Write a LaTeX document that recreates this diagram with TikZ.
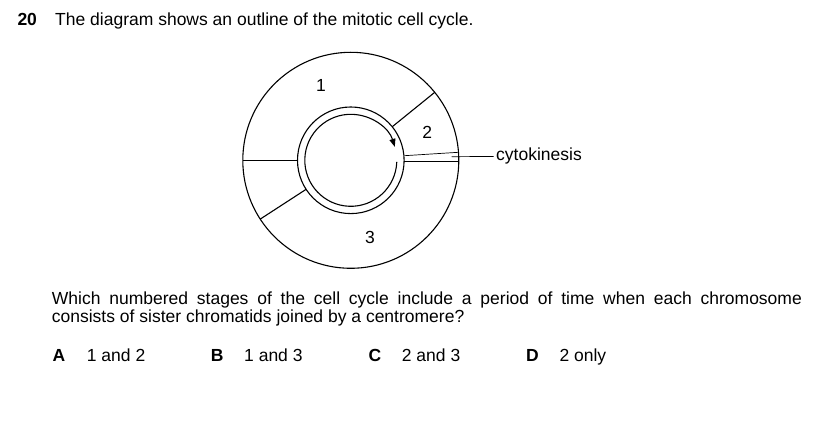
\documentclass[tikz,border=0pt]{standalone}
\usepackage{fontspec}
\setmainfont{Liberation Sans}
\usetikzlibrary{arrows.meta}
\begin{document}
\begin{tikzpicture}[x=1pt,y=-1pt,
  txt/.style={font=\fontsize{17.5}{20}\selectfont, inner sep=0pt, anchor=base west},
  num/.style={font=\fontsize{17.5}{20}\selectfont, inner sep=0pt},
  ln/.style={line width=1.1pt, black},
  thin ln/.style={line width=0.7pt, black}]
\useasboundingbox (0,0) rectangle (836,443);
% title
\node[txt] (qn) at (17.3,26) {\textbf{20}};
\node[txt] (title) at (55,26) {The diagram shows an outline of the mitotic cell cycle.};
% diagram
\coordinate (c) at (350.8,160.3);
\draw[ln] (c) circle (108);
\draw[ln] (c) circle (53.3);
\draw[ln, -{Triangle[length=8pt,width=6pt]}] ([shift={(2:46)}]c) arc[start angle=2, end angle=343, radius=46];
\draw[ln] ([shift={(180:53.3)}]c) -- ([shift={(180:108)}]c);
\draw[ln] ([shift={(147:53.3)}]c) -- ([shift={(147:108)}]c);
\draw[ln] ([shift={(-39:53.3)}]c) -- ([shift={(-39:108)}]c);
\coordinate (ua) at (404.3,155.7);
\coordinate (ub) at (458.5,152.3);
\coordinate (la) at (404.1,161.5);
\coordinate (lb) at (458.7,161.5);
\draw[thin ln] (ua) -- (ub);
\draw[thin ln] (la) -- (lb);
\node[num] (n1) at (321,85) {1};
\node[num] (n2) at (427.3,132) {2};
\node[num] (n3) at (370,237.3) {3};
\node[txt] (cyt) at (496,161) {cytokinesis};
\coordinate (p) at (451.7,156.7);
\draw[thin ln] (p) -- ([xshift=-2.5pt]cyt.west);
% question
\node[txt] (q1) at (51.7,305) {\makebox[750pt][s]{Which numbered stages of the cell cycle include a period of time when each chromosome}};
\node[txt] (q2) at (51.7,322.3) {consists of sister chromatids joined by a centromere?};
% answers
\node[txt] (A) at (52.3,361.7) {\textbf{A}};
\node[txt] (a) at (86.7,361.7) {1 and 2};
\node[txt] (B) at (210.7,361.7) {\textbf{B}};
\node[txt] (b) at (244,361.7) {1 and 3};
\node[txt] (C) at (368.3,361.7) {\textbf{C}};
\node[txt] (cc) at (401.7,361.7) {2 and 3};
\node[txt] (D) at (526,361.7) {\textbf{D}};
\node[txt] (d) at (559.3,361.7) {2 only};
\end{tikzpicture}
\end{document}
